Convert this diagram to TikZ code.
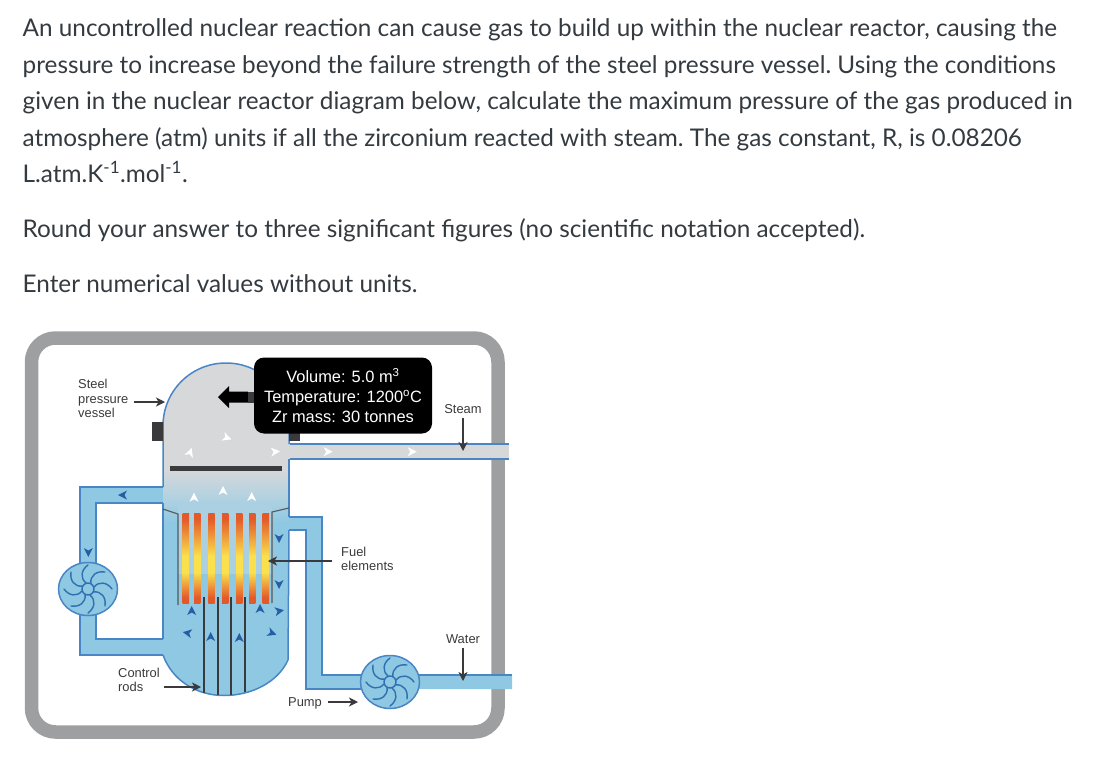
\documentclass[tikz,border=0pt]{standalone}
\usepackage{fontspec}
\setmainfont{Lato}
\newfontfamily\labelfont{Liberation Sans}
\usetikzlibrary{arrows.meta}
\definecolor{framegray}{HTML}{9D9FA1}
\definecolor{gasgray}{HTML}{D6D8DA}
\definecolor{paleblue}{HTML}{ABD0E2}
\definecolor{waterblue}{HTML}{8FC8E2}
\definecolor{wallblue}{HTML}{4A86C5}
\definecolor{bladeblue}{HTML}{2E70B2}
\definecolor{flowblue}{HTML}{245FA5}
\definecolor{steeldark}{HTML}{3A3A3C}
\definecolor{rodred}{HTML}{E2592A}
\definecolor{rodyellow}{HTML}{FBE04E}
\definecolor{inktext}{HTML}{333A40}
\pgfdeclareverticalshading{vesselfade}{100bp}{color(0bp)=(waterblue); color(51bp)=(waterblue); color(54bp)=(paleblue); color(59bp)=(gasgray); color(100bp)=(gasgray)}
\pgfdeclareverticalshading{fuelrod}{100bp}{color(0bp)=(rodred); color(28bp)=(rodred); color(42bp)=(rodyellow); color(51bp)=(rodyellow); color(72bp)=(rodred); color(100bp)=(rodred)}
\tikzset{>={Stealth[width=9pt,length=9pt,inset=2.5pt]}}
\tikzset{
  prose/.style={anchor=base west, inner sep=0pt, text=inktext, font=\frenchspacing\fontsize{24.32}{30}\selectfont},
  partlabel/.style={inner sep=0pt, text=steeldark, align=left, font=\labelfont\fontsize{12.9}{14.5}\selectfont},
  callout/.style={->, draw=steeldark, line width=1.2pt},
  wall/.style={draw=wallblue, line width=1.5pt},
  infobox/.style={fill=black, rounded corners=10pt, text=white, align=center, inner sep=0pt, minimum width=178pt, minimum height=76pt, font=\labelfont\fontsize{16.4}{20}\selectfont}
}

\begin{document}
\begin{tikzpicture}[x=1pt,y=-1pt]
  \useasboundingbox (0,0) rectangle (1106,760);

  \node[prose] (line1) at (22.5,37) {An uncontrolled nuclear reaction can cause gas to build up within the nuclear reactor, causing the};
  \node[prose] (line2) at (22.5,74) {pressure to increase beyond the failure strength of the steel pressure vessel. Using the conditions};
  \node[prose] (line3) at (22.5,110) {given in the nuclear reactor diagram below, calculate the maximum pressure of the gas produced in};
  \node[prose] (line4) at (22.5,146.5) {atmosphere (atm) units if all the zirconium reacted with steam. The gas constant, R, is 0.08206};
  \node[prose] (line5) at (22.5,182.5) {L.atm.K\textsuperscript{-1}.mol\textsuperscript{-1}.};
  \node[prose] (line6) at (22.5,237) {Round your answer to three significant figures (no scientific notation accepted).};
  \node[prose] (line7) at (22.5,292) {Enter numerical values without units.};

  % frame
  \draw[framegray, line width=13.5pt, rounded corners=24pt] (31.5,338) rectangle (498,732);

  % pipes
  \fill[waterblue] (163,487) -- (80,487) -- (80,655) -- (165,655) -- (165,639) -- (96,639) -- (96,503) -- (165,503) -- cycle;
  \draw[wall] (163,487) -- (80,487) -- (80,655) -- (163,655);
  \draw[wall] (163,639) -- (96,639) -- (96,503) -- (163,503);
  \fill[waterblue] (287,517) -- (322,517) -- (322,675) -- (512,675) -- (512,689) -- (306,689) -- (306,530) -- (287,530) -- cycle;
  \draw[wall] (512,675) -- (322,675) -- (322,517) -- (289,517);
  \draw[wall] (390,689) -- (306,689) -- (306,530) -- (289,530);
  \fill[gasgray] (287,444) rectangle (509,459);
  \draw[wall] (289,444) -- (509,444);
  \draw[wall] (289,459) -- (509,459);

  % vessel
  \shade[shading=vesselfade] (163,426) .. controls (163,391) and (191,363) .. (226,363)
    .. controls (261,363) and (289,391) .. (289,426) -- (289,517) -- (288,660)
    .. controls (278,682) and (252,695.5) .. (224,695.5)
    .. controls (196,695.5) and (172,680) .. (163,655) -- cycle;
  \fill[gasgray] (285,444) rectangle (290,459);
  \fill[paleblue] (178,505) rectangle (272,574);
  \draw[wall] (163,487) -- (163,426) .. controls (163,391) and (191,363) .. (226,363)
    .. controls (261,363) and (289,391) .. (289,426) -- (289,444);
  \draw[wall] (163,503) -- (163,639);
  \draw[wall] (289,459) -- (289,517);
  \draw[wall] (289,530) -- (288,660);
  \draw[wall] (288,660) .. controls (278,682) and (252,695.5) .. (224,695.5)
    .. controls (196,695.5) and (172,680) .. (163,655);

  % pumps
  \foreach \pumpx/\pumpy in {88/589, 390/682}{
    \draw[wall, fill=waterblue] (\pumpx,\pumpy) ellipse [x radius=29.5pt, y radius=26.5pt];
    \draw[bladeblue, line width=1.4pt] (\pumpx,\pumpy) circle (6pt);
    \foreach \bladeangle in {0,45,...,315}
      \draw[bladeblue, line width=1.4pt, line cap=round, shift={(\pumpx,\pumpy)}, rotate=\bladeangle]
        (6,-2) .. controls (11,-8) and (19,-7) .. (24,0);
  }

  % fuel and rods
  \foreach \rodx in {182.7,194,208.3,222,236,249,262.7}
    \shade[shading=fuelrod] (\rodx,513) rectangle +(6.4,90);
  \draw[steeldark!85, line width=1.1pt] (163,509) -- (178,514) -- (178,605);
  \draw[steeldark!85, line width=1.1pt] (289,508) -- (272,512) -- (272,603);
  \foreach \ctrlx/\ctrly in {203.7/693, 218/695, 231.3/695, 245.3/692}
    \draw[steeldark, line width=2pt] (\ctrlx,597) -- (\ctrlx,\ctrly);

  % blocks and baffle
  \fill[steeldark] (152,422) rectangle (163,441);
  \fill[steeldark] (289,433) rectangle (300,441);
  \fill[steeldark] (170,466) rectangle (282,471);
  \fill[black] (218,397) -- (229,386) -- (229,391.5) -- (248,391.5) -- (248,402.5) -- (229,402.5) -- (229,408) -- cycle;
  \fill[steeldark] (248,391.5) rectangle (255,402.5);

  % flow marks
  \foreach \flowx/\flowy/\flowangle in {190/452.7/70, 226.7/437.7/-20, 275/451.7/5, 327.7/451.7/0, 411.7/451.7/0, 194/497.7/90, 223/491/90, 251.7/497/90}
    \fill[white, shift={(\flowx,\flowy)}, rotate=\flowangle] (5,0) -- (-4,4.5) -- (-1.5,0) -- (-4,-4.5) -- cycle;
  \foreach \flowx/\flowy/\flowangle in {123/495/180, 88.3/552/270, 279/538/270, 279/584/270, 191.7/611/90, 260/609/90, 279/611/10, 187.7/633/170, 210.7/637/90, 239.3/638/90, 271.7/633/-20}
    \fill[flowblue, shift={(\flowx,\flowy)}, rotate=\flowangle] (5,0) -- (-4,4.5) -- (-1.5,0) -- (-4,-4.5) -- cycle;

  % labels
  \node[infobox] (infobox) at (343,395.5) {Volume: 5.0 m\textsuperscript{3}\\Temperature: 1200\textsuperscript{o}C\\Zr mass: 30 tonnes};
  \node[partlabel, anchor=west] (steellabel) at (78,398.5) {Steel\\pressure\\vessel};
  \node[partlabel, anchor=west] (controllabel) at (118,680) {Control\\rods};
  \node[partlabel, anchor=west] (fuellabel) at (341,559) {Fuel\\elements};
  \node[partlabel, anchor=west] (pumplabel) at (288,703) {Pump};
  \node[partlabel] (steamlabel) at (463,409) {Steam};
  \node[partlabel] (waterlabel) at (463,639) {Water};

  \coordinate (wallpoint) at (165,402);
  \coordinate (rodpoint) at (201,687);
  \coordinate (fuelpoint) at (268,561);
  \coordinate (pumppoint) at (358,702);
  \coordinate (steampoint) at (463,451);
  \coordinate (waterpoint) at (463,681);

  \draw[callout, shorten <=5pt] (steellabel.east |- wallpoint) -- (wallpoint);
  \draw[callout, shorten <=4pt] (controllabel.east |- rodpoint) -- (rodpoint);
  \draw[callout, shorten <=9pt] (fuellabel.west |- fuelpoint) -- (fuelpoint);
  \draw[callout, shorten <=6pt] (pumplabel.east |- pumppoint) -- (pumppoint);
  \draw[callout, shorten <=4pt] (steamlabel.south) -- (steampoint);
  \draw[callout, shorten <=4pt] (waterlabel.south) -- (waterpoint);
\end{tikzpicture}
\end{document}
